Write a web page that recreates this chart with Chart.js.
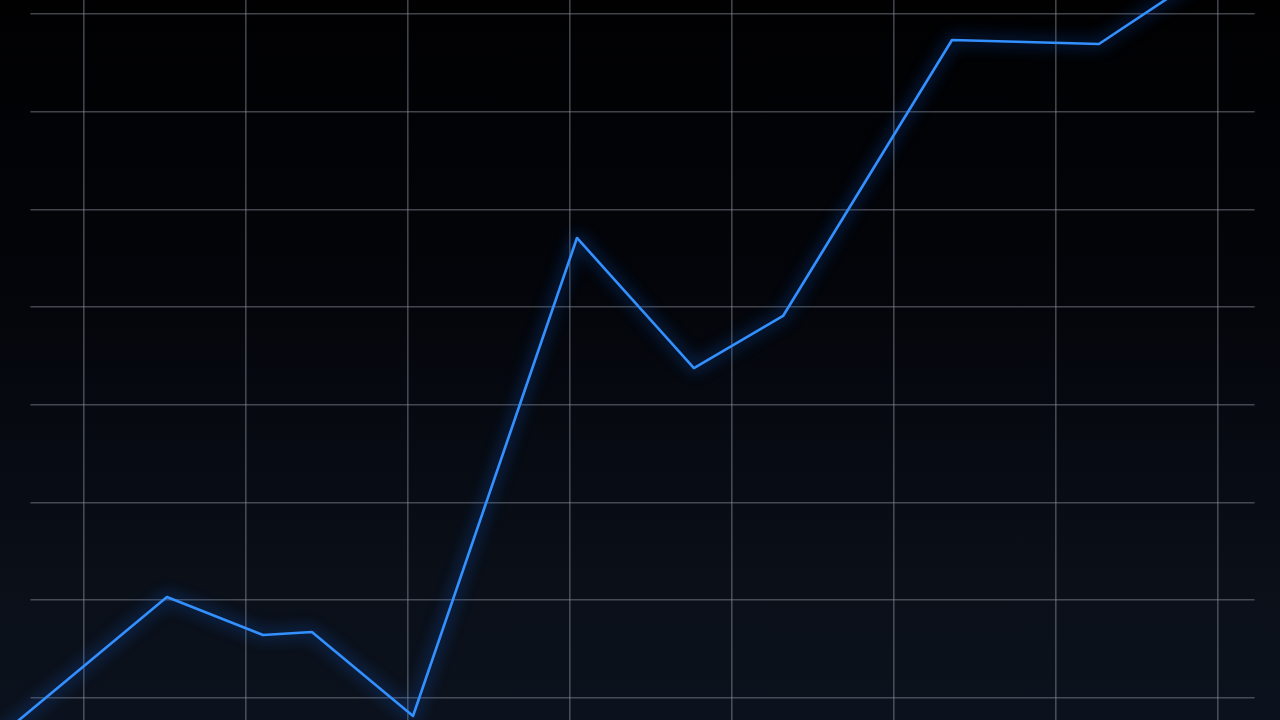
<!DOCTYPE html>
<html>
<head>
<meta charset="utf-8">
<script src="https://cdn.jsdelivr.net/npm/chart.js@4.4.1/dist/chart.umd.min.js"></script>
<style>
  html, body { margin: 0; padding: 0; width: 1280px; height: 720px; overflow: hidden;
    background: linear-gradient(180deg, #010102 0%, #03050a 40%, #0a0f18 80%, #0c121d 100%); }
  #wrap { position: relative; width: 1280px; height: 720px; }
</style>
</head>
<body>
<div id="wrap"><canvas id="c" width="1280" height="720"></canvas></div>
<script>
// Data (grid units: one unit = one grid cell)
const xValues = [-0.60, 0.512, 1.105, 1.407, 2.031, 3.043, 3.765, 4.315, 5.358, 6.265, 7.07];
const yValues = [-0.50, 1.034, 0.645, 0.675, -0.184, 4.708, 3.377, 3.910, 6.734, 6.693, 7.58];
const xRange = [-0.5185, 7.3827];
const yRange = [-0.2252, 7.1437];

const points = xValues.map((x, i) => ({ x: x, y: yValues[i] }));

const gridColor = 'rgba(135,140,152,0.48)';

const glowPlugin = {
  id: 'glow',
  beforeDatasetDraw(chart) {
    const ctx = chart.ctx;
    ctx.save();
    ctx.shadowColor = 'rgba(20,110,255,1)';
    ctx.shadowBlur = 16;
  },
  afterDatasetDraw(chart) {
    chart.ctx.restore();
  }
};

let hGrad = null;
function horizGridColor(context) {
  const chart = context.chart;
  if (!hGrad) {
    const g = chart.ctx.createLinearGradient(0, 0, chart.width, 0);
    const a = 29 / chart.width, b = 31 / chart.width;
    const c = 1254 / chart.width, d = 1256 / chart.width;
    g.addColorStop(0, 'rgba(0,0,0,0)');
    g.addColorStop(a, 'rgba(0,0,0,0)');
    g.addColorStop(b, gridColor);
    g.addColorStop(c, gridColor);
    g.addColorStop(d, 'rgba(0,0,0,0)');
    g.addColorStop(1, 'rgba(0,0,0,0)');
    hGrad = g;
  }
  return hGrad;
}

new Chart(document.getElementById('c'), {
  type: 'line',
  data: {
    datasets: [{
      data: points,
      borderColor: '#3390ff',
      borderWidth: 2.6,
      pointRadius: 0,
      tension: 0,
      fill: false,
      borderJoinStyle: 'round',
      borderCapStyle: 'round'
    }]
  },
  options: {
    responsive: false,
    animation: false,
    layout: { padding: 0 },
    plugins: { legend: { display: false }, tooltip: { enabled: false } },
    scales: {
      x: {
        type: 'linear',
        min: xRange[0], max: xRange[1],
        ticks: { display: false, stepSize: 1, includeBounds: false },
        border: { display: false },
        grid: { color: gridColor, lineWidth: 1.6, drawTicks: false, tickLength: 0 }
      },
      y: {
        type: 'linear',
        min: yRange[0], max: yRange[1],
        ticks: { display: false, stepSize: 1, includeBounds: false },
        border: { display: false },
        grid: { color: horizGridColor, lineWidth: 1.6, drawTicks: false, tickLength: 0 }
      }
    }
  },
  plugins: [glowPlugin]
});
</script>
</body>
</html>
